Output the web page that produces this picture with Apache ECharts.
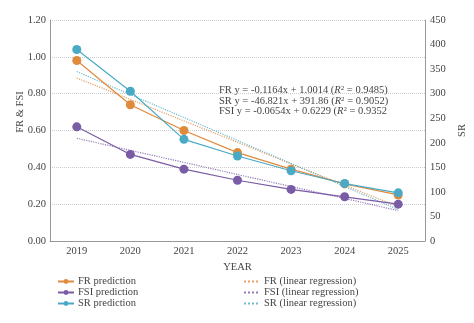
<!DOCTYPE html>
<html><head><meta charset="utf-8">
<script src="https://cdn.jsdelivr.net/npm/echarts@6/dist/echarts.min.js"></script>
<style>html,body{margin:0;padding:0;background:#fff}#c{width:474px;height:323px}</style>
</head><body><div id="c"></div>
<script>
const years = ['2019','2020','2021','2022','2023','2024','2025'];
const frPred = [0.98, 0.74, 0.60, 0.48, 0.39, 0.31, 0.25];
const fsiPred = [0.62, 0.47, 0.39, 0.33, 0.28, 0.24, 0.20];
const srPred = [390, 305, 207, 173, 143, 117, 98];
const frReg = [0.885, 0.769, 0.652, 0.536, 0.419, 0.303, 0.187];
const fsiReg = [0.558, 0.492, 0.427, 0.361, 0.296, 0.231, 0.165];
const srReg = [345.0, 298.2, 251.4, 204.6, 157.8, 110.9, 64.1];
const equations = [
  ['FR y = -0.1164x + 1.0014 (', ' = 0.9485)'],
  ['SR y = -46.821x + 391.86 (', ' = 0.9052)'],
  ['FSI y = -0.0654x + 0.6229 (', ' = 0.9352']
];
const C = {fr:'#e08a3c', fsi:'#7a5ba6', sr:'#4aaac6'};
const font = 'Liberation Serif';
const txt = '#444';
const chart = echarts.init(document.getElementById('c'));
const eqText = equations.map(e => '{n|' + e[0] + '}{i|R}{s|2}{n|' + e[1] + '}').join('\n');
function pred(name, data, color, yi){
  return {name, type:'line', data, yAxisIndex:yi, symbol:'circle', symbolSize:9,
    itemStyle:{color}, lineStyle:{color, width:1.2}, z:5};
}
function reg(name, data, color, yi){
  return {name, type:'line', data, yAxisIndex:yi, symbol:'none', showSymbol:false,
    itemStyle:{color}, lineStyle:{color, width:1.2, type:'dotted', opacity:0.8}, z:3};
}
const legText = {fontFamily:font, fontSize:10.5, color:txt, lineHeight:9.5, padding:[0,0,0,-1]};
chart.setOption({
  animation:false,
  textStyle:{fontFamily:font},
  grid:{left:50, right:49, top:20, bottom:82, containLabel:false, outerBoundsMode:'none'},
  title:{text:eqText, left:214, top:80, textStyle:{fontFamily:font, fontWeight:'normal', rich:{
    n:{fontFamily:font, fontSize:10.5, fontWeight:'normal', color:'#444', lineHeight:10.5},
    i:{fontFamily:font, fontSize:10.5, fontWeight:'normal', fontStyle:'italic', color:'#444', lineHeight:10.5},
    s:{fontFamily:font, fontSize:7, fontWeight:'normal', color:'#444', verticalAlign:'top', lineHeight:8}
  }}},
  graphic:[{type:'text', x:20, y:112, rotation:Math.PI/2,
    style:{text:'FR & FSI', font:'10.5px "Liberation Serif"', fill:txt, align:'center', verticalAlign:'middle'}}],
  legend:[
    {data:['FR prediction','FSI prediction','SR prediction'], orient:'vertical', left:52, top:271,
     itemWidth:16, itemHeight:6, itemGap:0, textStyle:legText},
    {data:['FR (linear regression)','FSI (linear regression)','SR (linear regression)'], orient:'vertical', left:238, top:271,
     itemWidth:16, itemHeight:6, itemGap:0, itemStyle:{opacity:0}, textStyle:legText}
  ],
  xAxis:{type:'category', data:years, boundaryGap:true, name:'YEAR', nameLocation:'middle', nameGap:18,
    nameTextStyle:{fontFamily:font, fontSize:10.5, color:txt},
    axisLine:{lineStyle:{color:'#999'}}, axisTick:{show:false},
    axisLabel:{fontFamily:font, fontSize:10.5, color:txt, margin:5}},
  yAxis:[
    {type:'value', min:0, max:1.2, interval:0.2,
     axisLine:{show:true, lineStyle:{color:'#999'}}, axisTick:{show:false},
     axisLabel:{fontFamily:font, fontSize:10.5, color:txt, margin:4, formatter:v=>v.toFixed(2)},
     splitLine:{lineStyle:{color:'#ccc', type:'dotted', width:1}}},
    {type:'value', min:0, max:450, interval:50, name:'SR', nameLocation:'middle', nameGap:25,
     nameRotate:90,
     nameTextStyle:{fontFamily:font, fontSize:10.5, color:txt},
     axisLine:{show:true, lineStyle:{color:'#999'}}, axisTick:{show:false},
     axisLabel:{fontFamily:font, fontSize:10.5, color:txt, margin:5},
     splitLine:{show:false}}
  ],
  series:[
    reg('FR (linear regression)', frReg, C.fr, 0),
    reg('FSI (linear regression)', fsiReg, C.fsi, 0),
    reg('SR (linear regression)', srReg, C.sr, 1),
    pred('FR prediction', frPred, C.fr, 0),
    pred('FSI prediction', fsiPred, C.fsi, 0),
    pred('SR prediction', srPred, C.sr, 1)
  ]
});
</script></body></html>
